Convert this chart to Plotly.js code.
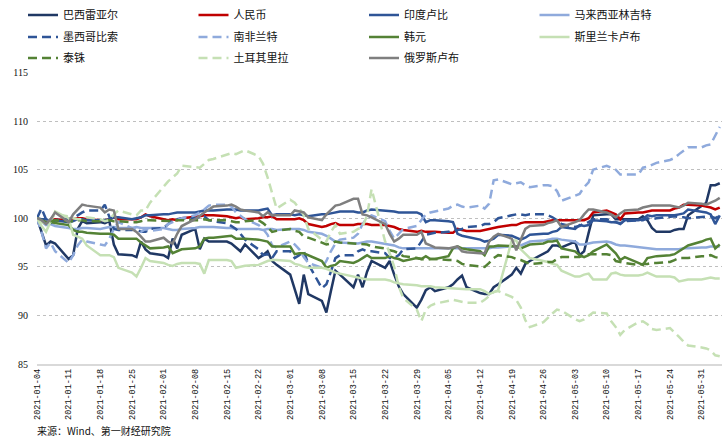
<!DOCTYPE html>
<html>
<head>
<meta charset="utf-8">
<script src="https://cdn.plot.ly/plotly-3.0.1.min.js"></script>
<style>
  html, body { margin: 0; padding: 0; background: #fff; }
  #chart { width: 728px; height: 445px; }
</style>
</head>
<body>
<div id="chart"></div>
<script>
// Trading days, 2021-01-04 .. 2021-06-04
const janDays = [4,5,6,7,8,11,12,13,14,15,18,19,20,21,22,25,26,27,28,29];
const febDays = [1,2,3,4,5,8,9,10,11,12,15,16,17,18,19,22,23,24,25,26];
const marDays = [1,2,3,4,5,8,9,10,11,12,15,16,17,18,19,22,23,24,25,26,29,30,31];
const aprDays = [1,2,5,6,7,8,9,12,13,14,15,16,19,20,21,22,23,26,27,28,29,30];
const mayDays = [3,4,5,6,7,10,11,12,13,14,17,18,19,20,21,24,25,26,27,28,31];
const junDays = [1,2,3,4];

// Currency indices vs USD (2021-01-04 = 100)
const brl = [
  100, 98.6, 97.2, 97.6, 97.4, 95.8, 96.2, 98.9, 99.7, 99.5, 99.6, 99.5, 99.7, 97.3, 96.3, 96.2, 96.0, 97.6, 96.8, 96.4,
  96.2, 95.9, 97.9, 96.9, 98.3, 98.9, 96.8, 97.9, 97.6, 97.6, 97.6, 97.4, 97.0, 96.6, 97.3, 95.9, 96.2, 96.6, 95.6, 95.2,
  94.2, 92.8, 91.2, 94.2, 92.2, 91.5, 90.3, 92.5, 94.6, 94.2, 92.9, 94.2, 92.9, 94.5, 95.6, 94.9, 95.6, 94.2, 93.0, 92.2, 90.8, 91.6, 92.6,
  92.9, 92.5, 92.9, 93.2, 93.7, 94.1, 92.9, 92.3, 92.2, 92.2, 92.9, 93.2, 94.2, 94.9, 94.3, 95.3, 95.6, 96.3, 96.6, 97.2, 97.2, 97.0,
  97.6, 96.2, 96.6, 98.5, 100.3, 100.4, 100.4, 99.9, 99.9, 99.9, 99.9, 100.2, 99.8, 99.0, 98.6, 98.6, 98.8, 98.9, 98.9, 100.3, 101.3,
  101.6, 103.4, 103.4, 103.6
];
const cny = [
  100, 99.7, 99.6, 99.8, 99.9, 99.8, 99.9, 100.0, 100.0, 99.9, 99.8, 99.8, 99.9, 100.1, 99.9, 99.9, 99.9, 100.1, 100.4, 100.2,
  99.9, 99.8, 99.9, 99.8, 100.0, 100.1, 100.2, 100.3, 100.3, 100.3, 100.2, 100.1, 100.0, 100.1, 99.9, 100.0, 100.1, 100.1, 100.2, 99.9,
  99.9, 99.9, 100.0, 99.8, 99.4, 99.1, 99.2, 99.4, 99.5, 99.3, 99.3, 99.4, 99.4, 99.4, 99.3, 99.3, 99.2, 99.1, 98.9, 98.8, 98.6, 98.7, 98.6,
  98.6, 98.6, 98.5, 98.5, 98.9, 98.8, 98.7, 98.7, 98.8, 98.9, 99.0, 99.1, 99.3, 99.3, 99.5, 99.6, 99.6, 99.6, 99.7, 99.8, 99.8, 99.8,
  99.8, 99.8, 99.8, 100.0, 100.6, 100.8, 100.6, 100.4, 99.9, 100.5, 100.6, 100.6, 100.7, 100.8, 100.8, 100.8, 101.0, 101.1, 101.4, 101.4, 101.3,
  101.2, 101.1, 100.9, 101.1
];
const inr = [
  100, 99.9, 99.9, 99.7, 99.8, 99.6, 99.7, 99.9, 99.9, 99.8, 99.8, 99.8, 99.9, 100.1, 100.1, 99.9, 100.0, 100.1, 100.3, 100.3,
  100.4, 100.4, 100.5, 100.6, 100.6, 100.6, 100.7, 100.8, 100.8, 100.8, 100.9, 100.9, 100.9, 100.8, 100.8, 100.8, 100.9, 101.0, 100.3, 100.4,
  100.4, 100.3, 100.4, 100.3, 100.2, 100.4, 100.4, 100.5, 100.6, 100.7, 100.7, 100.6, 100.6, 100.8, 100.9, 100.8, 100.8, 100.7, 100.6, 100.6, 100.6, 100.4, 99.6,
  99.8, 99.8, 99.7, 99.6, 98.4, 98.2, 98.1, 97.8, 97.6, 97.7, 97.9, 98.3, 98.2, 98.0, 97.8, 98.0, 98.3, 98.4, 98.4, 98.6, 98.7, 99.1,
  98.9, 99.3, 99.2, 99.3, 99.8, 99.7, 99.6, 99.6, 99.4, 99.8, 99.8, 99.9, 100.3, 100.2, 100.3, 100.3, 100.3, 100.4, 100.5, 100.9, 100.7,
  100.6, 100.4, 99.4, 100.3
];
const myr = [
  100, 99.6, 99.3, 99.4, 99.2, 99.0, 98.9, 98.9, 99.0, 99.0, 98.9, 99.0, 99.1, 99.1, 99.0, 99.0, 99.1, 99.0, 99.0, 99.0,
  99.0, 98.9, 98.8, 98.8, 98.9, 99.0, 99.1, 99.1, 99.1, 99.1, 99.0, 99.0, 98.9, 98.9, 98.9, 98.9, 98.8, 98.9, 98.9, 98.8,
  98.9, 98.9, 98.9, 98.8, 98.6, 98.4, 98.2, 97.9, 97.6, 97.5, 97.4, 97.4, 97.5, 97.6, 97.6, 97.4, 97.3, 97.2, 97.0, 96.9, 96.9, 96.9, 96.9,
  96.9, 96.9, 96.9, 96.9, 96.9, 96.9, 96.9, 96.9, 96.9, 96.9, 97.0, 97.0, 97.1, 97.1, 97.2, 97.4, 97.6, 97.7, 97.8, 97.9, 97.9, 97.8,
  97.6, 97.3, 97.3, 97.4, 97.5, 97.6, 97.5, 97.3, 97.2, 97.2, 97.0, 97.0, 96.9, 96.8, 96.8, 96.8, 96.8, 96.8, 96.9, 96.9, 97.0,
  97.0, 97.1, 97.1, 97.1
];
const mxn = [
  100, 101.0, 99.9, 99.5, 99.8, 99.9, 100.0, 100.3, 100.6, 100.8, 100.8, 101.4, 100.1, 98.9, 98.8, 98.8, 98.9, 98.6, 98.6, 98.9,
  99.0, 99.4, 99.8, 99.9, 100.0, 100.0, 100.1, 100.2, 99.8, 99.7, 99.5, 99.2, 98.9, 98.4, 97.8, 96.8, 96.2, 96.3, 95.9, 96.6,
  96.6, 95.9, 96.2, 96.6, 95.3, 92.8, 93.2, 94.5, 95.9, 96.2, 96.2, 96.6, 96.8, 96.6, 96.6, 96.4, 95.9, 95.9, 96.2, 96.8, 96.9, 97.6, 98.3,
  98.4, 98.5, 98.6, 98.8, 98.8, 98.9, 99.1, 99.2, 99.4, 99.4, 99.6, 100.0, 100.3, 100.4, 100.4, 100.3, 100.4, 100.4, 100.3, 100.1, 99.8, 99.4,
  99.1, 99.2, 99.5, 99.6, 99.9, 99.9, 99.7, 99.6, 99.5, 99.7, 99.8, 99.8, 100.0, 99.9, 100.0, 100.1, 100.2, 100.1, 100.1, 100.0, 100.1,
  100.1, 100.2, 100.0, 100.3
];
const zar = [
  100, 98.6, 96.9, 97.5, 96.6, 95.4, 96.2, 97.2, 97.8, 97.6, 97.3, 97.2, 97.9, 98.9, 99.6, 99.0, 98.8, 98.6, 98.9, 98.7,
  98.9, 99.4, 99.6, 99.8, 100.0, 100.3, 100.6, 100.9, 101.3, 101.4, 101.4, 101.2, 100.6, 100.2, 99.9, 99.3, 98.9, 98.3, 97.2, 97.0,
  97.6, 97.3, 96.8, 96.0, 95.4, 94.9, 95.6, 96.6, 97.4, 97.8, 98.0, 98.4, 99.4, 100.0, 100.3, 99.7, 98.7, 97.9, 98.4, 98.9, 99.2, 99.8, 100.4,
  100.6, 100.7, 101.0, 101.3, 101.4, 101.2, 101.1, 101.3, 101.0, 101.5, 103.9, 104.0, 103.5, 103.6, 103.7, 103.4, 103.2, 103.4, 103.4, 103.3, 102.8, 101.8,
  102.3, 102.5, 103.2, 103.7, 105.0, 105.4, 105.2, 105.0, 104.5, 104.5, 104.5, 105.2, 105.3, 105.5, 105.7, 106.0, 106.2, 106.6, 107.0, 107.3, 107.3,
  107.5, 107.6, 108.5, 109.4
];
const krw = [
  100, 99.7, 99.6, 99.6, 99.5, 99.3, 98.8, 98.6, 98.6, 98.5, 98.4, 98.4, 98.4, 98.3, 97.9, 97.9, 97.9, 97.5, 97.2, 96.9,
  97.0, 97.1, 96.4, 96.6, 96.8, 96.9, 97.1, 97.9, 98.0, 98.0, 98.1, 98.2, 97.9, 97.9, 97.9, 97.8, 97.7, 97.6, 97.1, 97.1,
  97.1, 96.3, 96.4, 96.4, 96.2, 95.6, 94.9, 95.1, 95.2, 95.6, 95.4, 95.6, 95.9, 96.2, 95.9, 95.9, 96.1, 95.9, 95.8, 95.6, 95.9, 95.8, 96.1,
  95.8, 95.8, 96.1, 96.9, 97.1, 96.9, 96.8, 96.6, 96.2, 97.1, 97.1, 97.2, 97.1, 97.1, 96.9, 97.1, 97.3, 97.4, 97.6, 97.6, 97.7, 96.9,
  96.6, 96.2, 96.0, 96.2, 96.6, 97.3, 96.8, 96.4, 95.7, 96.0, 95.4, 95.2, 95.9, 96.0, 96.1, 96.2, 96.3, 96.6, 96.9, 97.2, 97.6,
  97.8, 97.9, 96.9, 97.3
];
const lkr = [
  100, 99.2, 98.6, 99.6, 100.7, 100.0, 98.3, 98.1, 97.9, 97.2, 96.2, 96.2, 96.2, 96.0, 94.9, 94.4, 94.0, 94.9, 95.9, 95.6,
  95.4, 95.2, 95.1, 95.3, 95.4, 95.4, 95.3, 94.3, 95.7, 95.7, 95.7, 95.6, 94.9, 95.0, 95.1, 95.2, 95.4, 95.6, 95.7, 95.7,
  95.6, 95.3, 95.2, 95.0, 94.9, 94.9, 94.8, 94.6, 94.4, 94.3, 94.0, 93.9, 93.8, 93.7, 93.7, 93.7, 93.6, 93.4, 93.3, 93.2, 93.1, 93.0, 93.0,
  93.0, 92.9, 92.8, 92.8, 92.8, 92.7, 92.7, 92.7, 92.5, 92.2, 92.4, 92.6, 97.7, 97.7, 96.8, 96.4, 95.9, 95.6, 95.5, 95.3, 95.2, 94.6,
  94.0, 94.0, 94.2, 94.3, 93.7, 93.7, 94.3, 94.4, 94.2, 94.1, 94.1, 94.2, 94.4, 94.2, 94.0, 94.0, 93.9, 93.5, 93.6, 93.7, 93.7,
  93.8, 93.9, 93.8, 93.8
];
const thb = [
  100, 99.8, 99.6, 99.7, 99.8, 99.7, 99.7, 99.8, 99.8, 99.7, 99.7, 99.8, 99.8, 99.7, 99.7, 99.6, 99.6, 99.7, 99.8, 99.8,
  99.7, 99.7, 99.7, 99.8, 99.8, 99.8, 99.8, 99.9, 99.8, 99.8, 99.8, 99.7, 99.6, 99.6, 99.7, 99.8, 99.5, 99.1, 98.6, 98.7,
  98.9, 98.7, 98.6, 98.1, 98.0, 97.5, 97.3, 97.4, 97.6, 97.5, 97.4, 97.4, 97.3, 97.3, 97.1, 96.9, 96.7, 96.6, 96.4, 96.1, 95.9, 95.8, 95.7,
  95.8, 95.8, 95.7, 95.7, 95.6, 95.3, 95.2, 95.0, 95.0, 95.4, 95.9, 96.2, 96.0, 95.8, 95.7, 95.5, 95.3, 95.4, 95.5, 95.5, 95.8, 96.0,
  96.0, 96.0, 96.2, 96.3, 96.3, 96.3, 96.2, 95.6, 95.5, 95.4, 95.2, 95.3, 95.3, 95.4, 95.4, 95.5, 95.7, 95.9, 95.9, 95.9, 96.1,
  96.1, 96.2, 96.0, 95.9
];
const tryl = [
  100, 99.6, 99.4, 99.9, 100.4, 100.2, 100.0, 99.9, 99.9, 100.1, 99.9, 99.7, 99.8, 100.4, 100.8, 100.4, 100.3, 100.8, 100.8, 101.6,
  103.2, 103.8, 104.2, 104.6, 105.4, 105.3, 105.2, 105.6, 106.0, 106.1, 106.6, 106.7, 106.6, 106.8, 107.0, 106.4, 105.6, 104.2, 102.6, 101.0,
  101.9, 101.6, 101.0, 100.3, 98.9, 97.8, 97.6, 98.6, 99.3, 98.4, 98.6, 98.9, 99.1, 100.3, 103.0, 97.6, 96.4, 95.0, 93.0, 91.8, 90.6, 89.4, 90.6,
  91.0, 91.2, 91.5, 91.6, 91.5, 91.4, 91.3, 91.3, 91.6, 92.0, 92.4, 92.5, 91.9, 91.6, 90.8, 89.5, 88.8, 89.3, 89.8, 90.2, 90.6, 90.5,
  89.6, 89.4, 89.6, 90.0, 90.3, 90.2, 89.4, 88.8, 88.0, 88.5, 89.3, 89.4, 89.1, 88.6, 88.5, 88.7, 88.3, 87.8, 87.3, 86.9, 86.7,
  86.6, 86.4, 85.9, 85.8
];
const rub = [
  100, 99.8, 99.4, 99.9, 100.6, 99.6, 100.4, 100.9, 101.4, 101.3, 101.1, 100.6, 100.9, 100.8, 98.9, 98.9, 98.6, 98.1, 97.6, 97.6,
  98.0, 97.6, 97.4, 98.4, 99.2, 99.9, 100.3, 100.6, 100.9, 101.2, 101.3, 101.4, 101.2, 100.9, 100.8, 100.6, 100.2, 100.6, 100.3, 100.3,
  100.3, 100.8, 100.7, 100.6, 100.1, 99.8, 100.4, 100.8, 101.3, 101.4, 102.0, 102.0, 100.4, 100.3, 100.1, 99.4, 98.4, 97.6, 97.9, 98.3, 98.3, 98.6, 97.4,
  97.2, 97.0, 96.9, 97.0, 97.1, 96.6, 96.5, 96.4, 96.4, 97.6, 98.1, 98.4, 97.9, 96.7, 97.8, 98.9, 99.2, 99.3, 99.5, 99.6, 99.8, 99.1,
  99.6, 99.8, 100.4, 100.9, 100.9, 100.6, 100.4, 100.1, 100.5, 100.8, 100.9, 101.1, 101.2, 101.3, 101.3, 101.3, 101.2, 101.1, 101.3, 101.6, 101.5,
  101.4, 101.6, 101.8, 102.1
];

const seriesNames = ['巴西雷亚尔', '人民币', '印度卢比', '马来西亚林吉特',
                     '墨西哥比索', '南非兰特', '韩元', '斯里兰卡卢布',
                     '泰铢', '土耳其里拉', '俄罗斯卢布'];
const seriesValues = [brl, cny, inr, myr, mxn, zar, krw, lkr, thb, tryl, rub];
const seriesColors = ['#203864', '#C00000', '#2F5597', '#8FAADC',
                      '#2F5597', '#8FAADC', '#548235', '#C5E0B4',
                      '#548235', '#C5E0B4', '#7F7F7F'];
const seriesDashed = [false, false, false, false, true, true, false, false, true, true, false];

function pad(n) { return (n < 10 ? '0' : '') + n; }
const dates = [];
[[1, janDays], [2, febDays], [3, marDays], [4, aprDays], [5, mayDays], [6, junDays]].forEach(function (m) {
  m[1].forEach(function (d) { dates.push('2021-' + pad(m[0]) + '-' + pad(d)); });
});

// four legend entries per row, three rows
const legendIds = ['legend', 'legend', 'legend', 'legend',
                   'legend2', 'legend2', 'legend2', 'legend2',
                   'legend3', 'legend3', 'legend3'];

const traces = seriesNames.map(function (name, i) {
  return {
    type: 'scatter',
    mode: 'lines',
    name: name,
    x: dates,
    y: seriesValues[i],
    legend: legendIds[i],
    line: {
      color: seriesColors[i],
      width: 2.5,
      dash: seriesDashed[i] ? '9px,5px' : 'solid'
    },
    hoverinfo: 'skip'
  };
});

const legendFont = { family: '"Noto Sans CJK SC", "Noto Sans", sans-serif', size: 11, color: '#111' };
function legendRow(yPix) {
  return {
    orientation: 'h',
    xref: 'container', yref: 'container',
    x: 23 / 728, y: 1 - yPix / 445,
    xanchor: 'left', yanchor: 'middle',
    entrywidth: 125.5, entrywidthmode: 'pixels',
    font: legendFont,
    bgcolor: 'rgba(0,0,0,0)',
    borderwidth: 0,
    traceorder: 'normal'
  };
}

const layout = {
  width: 728,
  height: 445,
  paper_bgcolor: '#ffffff',
  plot_bgcolor: '#ffffff',
  margin: { l: 37, r: 6, t: 68, b: 81 },
  showlegend: true,
  legend: legendRow(15),
  legend2: legendRow(37),
  legend3: legendRow(58),
  xaxis: {
    type: 'date',
    range: ['2021-01-04', '2021-06-04 12:00'],
    tickmode: 'linear',
    tick0: '2021-01-04',
    dtick: 7 * 24 * 3600 * 1000,
    tickformat: '%Y-%m-%d',
    tickangle: -90,
    ticks: '',
    showgrid: false,
    zeroline: false,
    showline: true,
    linecolor: '#D9D9D9',
    linewidth: 1.5,
    tickfont: { family: '"Liberation Mono", monospace', size: 8.5, color: '#111' }
  },
  yaxis: {
    range: [85, 115],
    tickmode: 'linear',
    tick0: 85,
    dtick: 5,
    ticks: '',
    ticklabelstandoff: 8,
    showgrid: true,
    gridcolor: '#BFBFBF',
    gridwidth: 1,
    griddash: 'dot',
    zeroline: false,
    showline: false,
    tickfont: { family: '"Liberation Serif", serif', size: 10, color: '#111' }
  },
  annotations: [{
    xref: 'paper', yref: 'paper',
    x: -2 / 685, y: -68 / 296,
    xanchor: 'left', yanchor: 'middle',
    showarrow: false,
    text: '来源：Wind、第一财经研究院',
    font: { family: '"Noto Sans CJK SC", sans-serif', size: 10, color: '#111' }
  }]
};

Plotly.newPlot('chart', traces, layout, { staticPlot: true, displayModeBar: false });
</script>
</body>
</html>
